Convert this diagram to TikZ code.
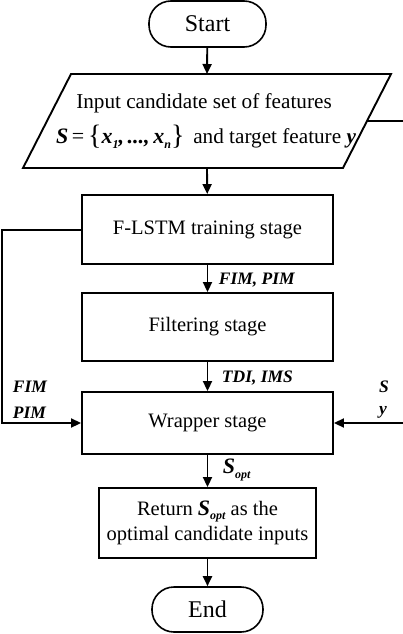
\documentclass[tikz,border=0pt]{standalone}
\usepackage{fontspec}
\setmainfont{Liberation Serif}
\usetikzlibrary{arrows.meta}
\newcommand\bi[1]{{\bfseries\itshape #1}}
\newcommand\subs[1]{\raisebox{-0.45ex}{\fontsize{12}{12}\selectfont\bfseries\itshape #1}}
\newcommand\bigbr[1]{\raisebox{-0.12ex}{\fontsize{28}{28}\selectfont #1}}
\begin{document}
\begin{tikzpicture}[x=1pt,y=-1pt,line width=1.9pt,
  box/.style={draw,rectangle,font=\fontsize{20.5}{25}\selectfont,inner sep=0pt,align=center},
  term/.style={draw,rectangle,rounded corners=22pt,font=\fontsize{24}{28}\selectfont,inner sep=0pt,line width=1.6pt},
  txt/.style={font=\fontsize{21.2}{25}\selectfont,inner sep=0pt},
  arr/.style={-{Triangle[length=10pt,width=9pt]}},
  lbl/.style={font=\fontsize{17.5}{20}\selectfont\bfseries\itshape,inner sep=0pt}]
\useasboundingbox (0,0) rectangle (402,634);
\fill[white] (0,0) rectangle (402,634);

\node[term,minimum width=117pt,minimum height=46pt] (start) at (207.5,24) {Start};

\draw (71,74) -- (391,74) -- (343,168) -- (23,168) -- cycle;
\coordinate (inTop) at (207,74);
\coordinate (inBot) at (207,168);
\coordinate (inRight) at (367,121);
\coordinate (rOut) at (406,121);
\node[txt] (in1) at (204,103) {Input candidate set of features};
\node[txt] (in2) at (206,137) {{\fontsize{22}{25}\selectfont\bi{S}\,=\,\bigbr{\{}\bi{x}\subs{1}\bi{,\,...,\,x}\subs{n}\bigbr{\}}}\ \,and target feature \bi{y}};

\node[box,minimum width=251pt,minimum height=69pt] (flstm) at (207.5,229.5) {F-LSTM training stage};
\node[box,minimum width=251pt,minimum height=68pt] (filter) at (207.5,327) {Filtering stage};
\node[box,minimum width=251pt,minimum height=62pt] (wrap) at (207.5,423) {Wrapper stage};
\node[box,minimum width=217pt,minimum height=70pt] (ret) at (207.5,523) {Return {\fontsize{22}{25}\selectfont\bi{S}}\subs{opt} as the\\optimal candidate inputs};
\node[term,minimum width=111pt,minimum height=45pt] (end) at (207.5,609.5) {End};

\coordinate (lOut) at (2,230);

\draw[arr] (start) -- (inTop);
\draw[arr] (inBot) -- (flstm);
\draw[arr] (flstm) -- (filter);
\draw[arr] (filter) -- (wrap);
\draw[arr] (wrap) -- (ret);
\draw[arr] (ret) -- (end);
\draw[arr] (flstm.west |- lOut) -- (lOut) |- (wrap.west);
\draw[arr] (inRight) -- (rOut) |- (wrap.east);

\node[lbl,anchor=west] (l1) at (218,280) {FIM, PIM};
\node[lbl,anchor=west] (l2) at (221,378) {TDI, IMS};
\node[lbl,anchor=west] (l3) at (222,470) {\fontsize{22}{22}\selectfont S\subs{opt}};
\node[lbl,anchor=west] (l4) at (12,387) {FIM};
\node[lbl,anchor=west] (l5) at (12,413) {PIM};
\node[lbl] (l6) at (384,387) {S};
\node[lbl] (l7) at (383,412) {y};
\end{tikzpicture}
\end{document}
